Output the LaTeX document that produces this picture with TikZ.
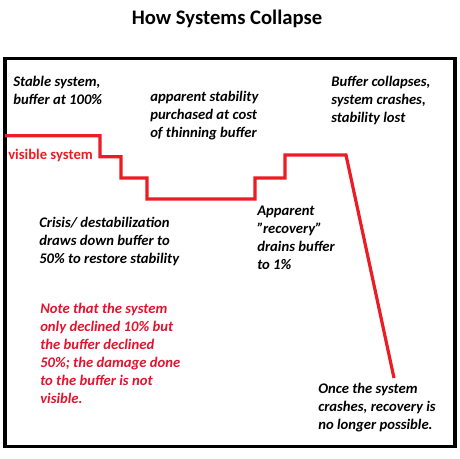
\documentclass[tikz,border=0pt]{standalone}
\usepackage{fontspec}
\setmainfont{Carlito}
\definecolor{linered}{RGB}{237,28,36}
\definecolor{notered}{RGB}{225,20,45}
\begin{document}
\begin{tikzpicture}[x=0.75pt,y=-0.75pt,
  lbl/.style={anchor=north west,inner sep=0pt,align=left,
    font=\fontsize{11}{13.5}\selectfont\bfseries\itshape},
  sysline/.style={draw=linered,line width=2.4pt,line join=miter},
  frame/.style={draw=black,line width=2.4pt}]
\useasboundingbox (0,0) rectangle (460,459);
\node[font=\fontsize{15.5}{18}\selectfont\bfseries,anchor=base,inner sep=0pt] (title) at (227,25) {How Systems Collapse};
\draw[frame] (5,58.5) rectangle (455,446.7);
\coordinate (s0) at (5,135.7);
\coordinate (s1) at (100,135.7);
\coordinate (s2) at (100,156.7);
\coordinate (s3) at (121,156.7);
\coordinate (s4) at (121,178);
\coordinate (s5) at (147,178);
\coordinate (s6) at (147,199);
\coordinate (s7) at (255,199);
\coordinate (s8) at (255,178);
\coordinate (s9) at (285,178);
\coordinate (s10) at (285,155);
\coordinate (s11) at (346,155);
\coordinate (s12) at (394,378);
\draw[sysline] (s0) -- (s1) -- (s2) -- (s3) -- (s4) -- (s5) -- (s6) -- (s7) -- (s8) -- (s9) -- (s10) -- (s11) -- (s12);
\node[lbl] (stable) at (13,76) {Stable system,\\buffer at 100\%};
\node[lbl] (apparent) at (150,91) {apparent stability\\purchased at cost\\of thinning buffer};
\node[lbl] (buffer) at (331,76) {Buffer collapses,\\system crashes,\\stability lost};
\node[anchor=base west,inner sep=0pt,font=\fontsize{11}{13.5}\selectfont\bfseries,text=linered] (visible) at (8,159.5) {visible system};
\node[lbl] (crisis) at (39,217) {Crisis/ destabilization\\draws down buffer to\\50\% to restore stability};
\node[lbl] (recovery) at (257,206) {Apparent\\\symbol{34}recovery\symbol{34}\\drains buffer\\to 1\%};
\node[lbl,text=notered] (note) at (40,303) {Note that the system\\only declined 10\% but\\the buffer declined\\50\%; the damage done\\to the buffer is not\\visible.};
\node[lbl] (once) at (318,383) {Once the system\\crashes, recovery is\\no longer possible.};
\end{tikzpicture}
\end{document}
